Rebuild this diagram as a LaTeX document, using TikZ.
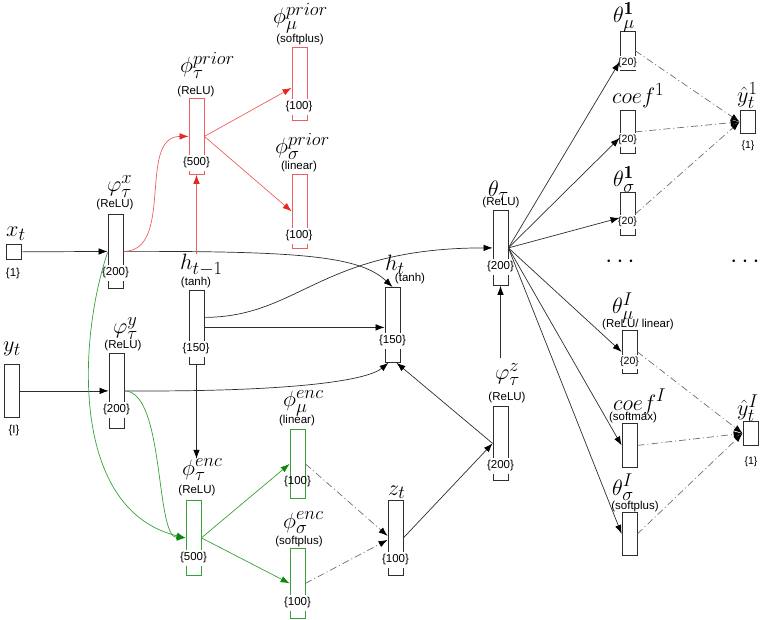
\documentclass[tikz,border=0pt]{standalone}
\usepackage{fontspec}
\newfontfamily\lab{Liberation Sans}
\usetikzlibrary{arrows.meta,calc}
\DeclareMathSizes{20.74}{20.74}{17.28}{14.4}
\DeclareMathSizes{24.88}{24.88}{17.28}{14.4}
\definecolor{bk}{RGB}{45,45,45}
\definecolor{rd}{RGB}{240,95,95}
\definecolor{rdt}{RGB}{235,35,35}
\definecolor{gn}{RGB}{55,160,55}
\definecolor{gnt}{RGB}{15,135,15}
\definecolor{dd}{RGB}{110,110,110}
\newcommand\lyr[5]{\node[lbox=#2, minimum height={(#5-#4)*1pt}] (#1) at ({#3+7.5},#4) {};}
\tikzset{
  lbox/.style={draw=#1, line width=0.8pt, minimum width=15pt, inner sep=0pt, anchor=north},
  sz/.style={font=\lab\fontsize{11.5}{12}\selectfont, fill=white, inner sep=2.2pt},
  szn/.style={font=\lab\fontsize{11.5}{12}\selectfont, inner sep=2.2pt},
  act/.style={font=\lab\fontsize{11.5}{12}\selectfont, inner sep=0.5pt},
  mth/.style={font=\fontsize{20.74}{24}\selectfont, inner sep=0pt, anchor=base west, scale=1.07},
  ln/.style={draw=bk, line width=0.7pt, -{Latex[length=9pt,width=6.5pt,color=black]}},
  rl/.style={draw=rd, line width=0.7pt, -{Latex[length=9pt,width=6.5pt,color=rdt]}},
  gl/.style={draw=gn, line width=0.7pt, -{Latex[length=9pt,width=6.5pt,color=gnt]}},
  dl/.style={draw=dd, line width=0.7pt, dash pattern=on 7pt off 3pt on 1pt off 3pt, -{Latex[length=9pt,width=6.5pt,color=black]}},
}
\begin{document}
\begin{tikzpicture}[x=1pt,y=-1pt]
\useasboundingbox (0,0) rectangle (769,620);
% boxes
\lyr{xt}{bk}{6}{244}{259}
\lyr{yt}{bk}{4}{364}{417}
\lyr{phx}{bk}{108}{214}{288}
\lyr{phy}{bk}{109}{353}{428}
\lyr{htm}{bk}{189}{290}{364}
\lyr{phpr}{rd}{189}{98}{174}
\lyr{phpm}{rd}{292}{47}{120}
\lyr{phps}{rd}{292}{174}{248}
\lyr{ht}{bk}{385}{287}{362}
\lyr{phz}{bk}{493}{406}{480}
\lyr{th}{bk}{493}{210}{285}
\lyr{zt}{bk}{388}{500}{575}
\lyr{phe}{gn}{186}{500}{575}
\lyr{phem}{gn}{290}{429}{498}
\lyr{phes}{gn}{290}{548}{618}
\lyr{tm1}{bk}{620}{31}{70}
\lyr{c1}{bk}{620}{110}{153}
\lyr{ts1}{bk}{620}{192}{235}
\lyr{tmI}{bk}{622}{330}{373}
\lyr{cI}{bk}{622}{423}{467}
\lyr{tsI}{bk}{622}{512}{555}
\lyr{y1}{bk}{740}{110}{133}
\lyr{yI}{bk}{743}{421}{445}
% size labels
\node[szn] (xt-n) at (13,274) {\{1\}};
\node[szn] (yt-n) at (14,431) {\{I\}};
\node[sz] (phx-n) at (115.5,273) {\{200\}};
\node[sz] (phy-n) at (116.5,410) {\{200\}};
\node[sz] (htm-n) at (196,349) {\{150\}};
\node[sz] (phpr-n) at (196.5,163) {\{500\}};
\node[sz] (phpm-n) at (299,107) {\{100\}};
\node[sz] (phps-n) at (299,236) {\{100\}};
\node[sz] (ht-n) at (392.5,341) {\{150\}};
\node[sz] (phz-n) at (500.5,466) {\{200\}};
\node[sz] (th-n) at (500.5,267) {\{200\}};
\node[sz] (zt-n) at (395.5,560) {\{100\}};
\node[sz] (phe-n) at (193.5,558) {\{500\}};
\node[szn] (phem-n) at (297.5,482) {\{100\}};
\node[sz] (phes-n) at (297.5,603) {\{100\}};
\node[sz,font=\lab\fontsize{10.5}{11}\selectfont] (tm1-n) at (627.5,63) {\{20\}};
\node[sz,font=\lab\fontsize{10.5}{11}\selectfont] (c1-n) at (627.5,140) {\{20\}};
\node[sz,font=\lab\fontsize{10.5}{11}\selectfont] (ts1-n) at (627.5,222) {\{20\}};
\node[sz,font=\lab\fontsize{10.5}{11}\selectfont] (tmI-n) at (629.5,362) {\{20\}};
\node[szn,font=\lab\fontsize{10.5}{11}\selectfont] (y1-n) at (748,146) {\{1\}};
\node[szn,font=\lab\fontsize{10.5}{11}\selectfont] (yI-n) at (751,462) {\{1\}};
% activation labels
\node[act] (phx-a) at (115,205) {(ReLU)};
\node[act] (phy-a) at (123,346) {(ReLU)};
\node[act] (htm-a) at (196,283) {(tanh)};
\node[act] (phpr-a) at (196,92) {(ReLU)};
\node[act] (phpm-a) at (300,40) {(softplus)};
\node[act] (phps-a) at (299,167) {(linear)};
\node[act] (ht-a) at (410,279) {(tanh)};
\node[act] (th-a) at (501,203) {(ReLU)};
\node[act] (phz-a) at (507,398) {(ReLU)};
\node[act] (phe-a) at (197,491) {(ReLU)};
\node[act] (phem-a) at (297,421) {(linear)};
\node[act] (phes-a) at (299,542) {(softplus)};
\node[act] (tmI-a) at (638,325) {(ReLU/ linear)};
\node[act] (cI-a) at (633,418) {(softmax)};
\node[act] (tsI-a) at (635,507) {(softplus)};
% math labels
\node[mth] (xt-l) at (6,237) {$x_t$};
\node[mth] (yt-l) at (3,352) {$y_t$};
\node[mth] (phx-l) at (107,192) {$\varphi^x_\tau$};
\node[mth] (phy-l) at (113,334) {$\varphi^y_\tau$};
\node[mth] (htm-l) at (180,270) {$h_{t-1}$};
\node[mth] (phpr-l) at (180,73) {$\phi^{prior}_\tau$};
\node[mth] (phpm-l) at (273,24) {$\phi^{prior}_\mu$};
\node[mth] (phps-l) at (275,154) {$\phi^{prior}_\sigma$};
\node[mth] (ht-l) at (385,271) {$h_t$};
\node[mth] (th-l) at (488,197) {$\theta_\tau$};
\node[mth] (phz-l) at (495,380) {$\varphi^z_\tau$};
\node[mth] (zt-l) at (388,495) {$z_t$};
\node[mth] (phe-l) at (182,475) {$\phi^{enc}_\tau$};
\node[mth] (phem-l) at (283,407) {$\phi^{enc}_\mu$};
\node[mth] (phes-l) at (283,528) {$\phi^{enc}_\sigma$};
\node[mth] (tm1-l) at (613,23) {$\theta^{\mathbf{1}}_\mu$};
\node[mth] (c1-l) at (612,104) {$coef^1$};
\node[mth] (ts1-l) at (613,187) {$\theta^{\mathbf{1}}_\sigma$};
\node[mth] (tmI-l) at (612,314) {$\theta^I_\mu$};
\node[mth] (cI-l) at (613,410) {$coef^I$};
\node[mth] (tsI-l) at (612,495) {$\theta^I_\sigma$};
\node[mth] (y1-l) at (737,103) {$\hat y^1_t$};
\node[mth] (yI-l) at (737,416) {$\hat y^I_t$};
\node[font=\fontsize{24.88}{28}\selectfont, inner sep=0pt, anchor=base] (dotsa) at (620,268) {$\cdots$};
\node[font=\fontsize{24.88}{28}\selectfont, inner sep=0pt, anchor=base] (dotsb) at (745,268) {$\cdots$};
% black connectors
\draw[ln] (xt) -- (phx);
\draw[ln] (yt) -- (phy);
\draw[ln] (htm.east) -- (ht.west |- htm.east);
\draw[ln] ([yshift=10pt]htm.east) .. controls (300,317) and (320,248) .. (th.west);
\draw[ln] (phx.east) .. controls (300,251) and (360,256) .. (ht.north);
\draw[ln] (phy.east) .. controls (280,392) and (365,382) .. ([xshift=-4pt]ht.south);
\draw[ln] (phz.west) -- ([xshift=4pt]ht.south);
\draw[ln] (zt.east) -- (phz.west);
\draw[ln] ([yshift=48pt]phz.north) -- (th.south);
\draw[ln] (htm.south) -- (htm.south |- phe-l.north);
\foreach \t/\s in {tm1/-11,c1/-6,ts1/-4,tmI/0,cI/0,tsI/0}
  \draw[ln] (th.east) -- ([yshift=\s pt]\t.west);
% red connectors
\draw[rl] (phx.east) to[out=0,in=180] (phpr.west);
\draw[rl] (phpr.south |- htm-l.north) -- (phpr.south);
\draw[rl] (phpr.east) -- ([yshift=-4pt]phpm.west);
\draw[rl] (phpr.east) -- (phps.west);
% green connectors
\draw[gl] ([yshift=-1pt]phx.west) .. controls (78,340) and (70,510) .. (phe.west);
\draw[gl] (phy.east) .. controls (165,391) and (155,537) .. (phe.west);
\draw[gl] (phe.east) -- (phem.west);
\draw[gl] (phe.east) -- (phes.west);
% dash-dot connectors
\draw[dl] (phem.east) -- ([yshift=2pt]zt.west);
\draw[dl] (phes.east) -- ([yshift=-2pt]zt.west);
\foreach \s in {tm1,c1,ts1} \draw[dl] (\s.east) -- (y1.west);
\foreach \s in {tmI,cI,tsI} \draw[dl] (\s.east) -- (yI.west);
\end{tikzpicture}
\end{document}
